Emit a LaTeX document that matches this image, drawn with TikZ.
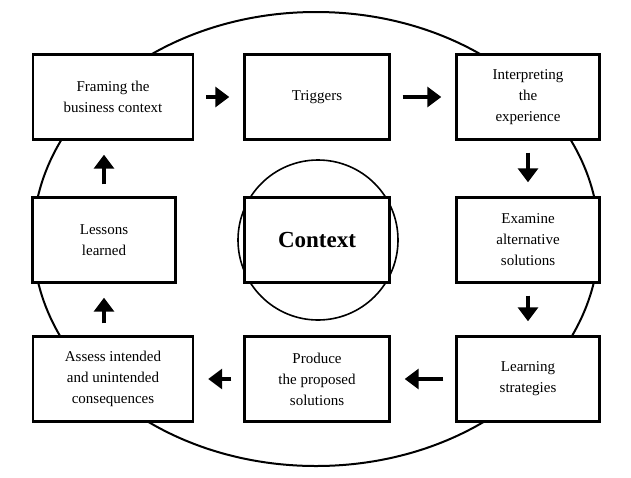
\documentclass[tikz,border=0pt]{standalone}
\usepackage{fontspec}
\setmainfont{Liberation Serif}
\usepackage{tikz}
\usetikzlibrary{arrows.meta}
\tikzset{
  stage/.style={draw,fill=white,line width=2.4pt,minimum height=85pt,align=center,
    font=\fontsize{15}{21}\selectfont},
  flow/.style={line width=3.2pt,-{Triangle[length=14pt,width=20pt]},
    shorten <=12pt,shorten >=14pt}
}
\begin{document}
\begin{tikzpicture}[x=1pt,y=-1pt]
\useasboundingbox (0,0) rectangle (631,477);
\draw[line width=2pt] (316,239) ellipse [x radius=283,y radius=227];
\draw[line width=1.6pt,fill=white] (318,240) circle (80);
\node[stage,minimum width=160pt] (FR) at (113,97){Framing the\\business context};
\node[stage,minimum width=145pt] (TR) at (317,97){Triggers};
\node[stage,minimum width=143pt] (IN) at (528,97){Interpreting\\the\\experience};
\node[stage,minimum width=143pt] (LL) at (104,240){Lessons\\learned};
\node[stage,minimum width=145pt,font=\fontsize{23}{26}\selectfont\bfseries] (CX) at (317,240){Context};
\node[stage,minimum width=143pt] (EX) at (528,240){Examine\\alternative\\solutions};
\node[stage,minimum width=160pt] (AS) at (113,379){Assess intended\\and unintended\\consequences};
\node[stage,minimum width=145pt] (PR) at (317,379){Produce\\the proposed\\solutions};
\node[stage,minimum width=143pt] (LS) at (528,379){Learning\\strategies};

\foreach \from/\to in {FR.east/TR.west,TR.east/IN.west,IN.south/EX.north,EX.south/LS.north,
  LS.west/PR.east,PR.west/AS.east}
\draw[flow] (\from) -- (\to);
\draw[flow] (AS.north -| LL.south) -- (LL.south);
\draw[flow] (LL.north) -- (LL.north |- FR.south);
\end{tikzpicture}
\end{document}
